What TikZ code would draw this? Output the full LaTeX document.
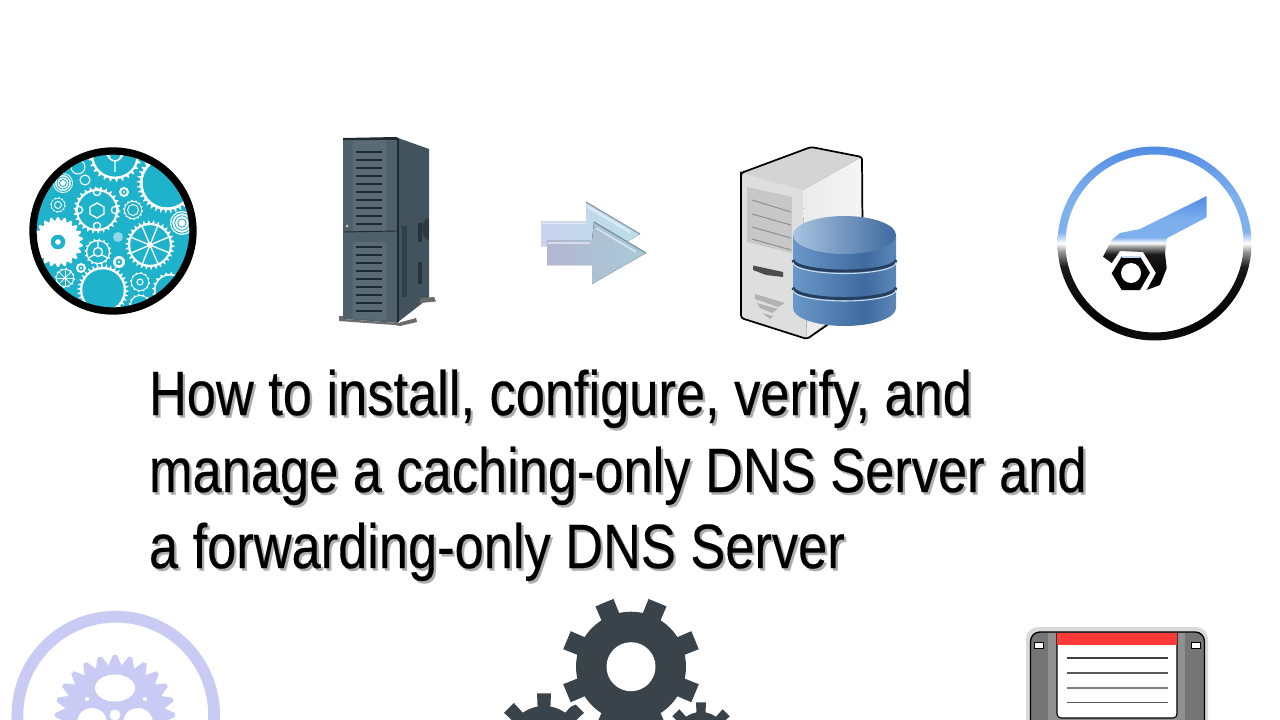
\documentclass[tikz,border=0pt]{standalone}
\usepackage{fontspec}
\setmainfont{Liberation Sans}
\usetikzlibrary{calc}
\definecolor{teal1}{HTML}{1FB2CB}
\definecolor{tow}{HTML}{4F606B}
\definecolor{towd}{HTML}{43535D}
\definecolor{towf}{HTML}{5A6B76}
\definecolor{slat}{HTML}{1E2A31}
\definecolor{gr1}{HTML}{3A424A}
\definecolor{lav}{HTML}{C9CBF4}
\definecolor{fl}{HTML}{757575}
\definecolor{fl2}{HTML}{8F9092}
\definecolor{cylA}{HTML}{5683B8}
\definecolor{cylB}{HTML}{6E9BCC}
\definecolor{cylC}{HTML}{3F6A9F}
\definecolor{cylD}{HTML}{7FA9D3}
\definecolor{chB}{HTML}{3F7FE0}
\definecolor{chL}{HTML}{7FB0EE}
\definecolor{chD}{HTML}{2560C8}
\definecolor{arA}{HTML}{CBD2EE}
\definecolor{arB}{HTML}{BADFEA}
\definecolor{arC}{HTML}{B4B7D2}
\definecolor{arD}{HTML}{A8CAD6}
\pgfdeclareverticalshading{chrome}{100bp}{
color(0bp)=(black);color(18bp)=(black!85);color(30bp)=(black);color(44bp)=(black!90);color(48bp)=(black!40);color(50bp)=(white);color(53bp)=(chL);color(62bp)=(chL);color(80bp)=(chB);color(100bp)=(chD)}
\pgfdeclarehorizontalshading{cyl}{100bp}{
color(0bp)=(cylA);color(22bp)=(cylB);color(60bp)=(cylC);color(85bp)=(cylB);color(100bp)=(cylD)}
\tikzset{
 px/.style={x=0.75pt,y=-0.75pt},
 line1/.style={font=\fontsize{47pt}{47pt}\selectfont\addfontfeature{FakeBold=0.35},anchor=base west,inner sep=0pt,text=black},
 shadowline/.style={line1,text=black!32},
 floppyline/.style={draw=black!75,line width=0.9pt},
}
\newcommand{\tl}[1]{\scalebox{0.836}[1]{#1}}
% cx cy root tip teeth tooth-angle rotation
\newcommand{\gearp}[7]{%
 ($(#1,#2)+({#7+#6}:{#3})$)
 \foreach \gi [evaluate=\gi as \ga using {#7+360*\gi/#5}] in {1,...,#5}{
  -- ($(#1,#2)+({\ga}:{#3})$) -- ($(#1,#2)+({\ga+0.1*#6}:{#4})$) -- ($(#1,#2)+({\ga+0.9*#6}:{#4})$) -- ($(#1,#2)+({\ga+#6}:{#3})$)
 } -- cycle (#1,#2) circle ({#3})}
% triangular teeth
\newcommand{\gearq}[7]{%
 ($(#1,#2)+({#7+#6}:{#3})$)
 \foreach \gi [evaluate=\gi as \ga using {#7+360*\gi/#5}] in {1,...,#5}{
  -- ($(#1,#2)+({\ga}:{#3})$) -- ($(#1,#2)+({\ga+0.38*#6}:{#4})$) -- ($(#1,#2)+({\ga+0.62*#6}:{#4})$) -- ($(#1,#2)+({\ga+#6}:{#3})$)
 } -- cycle}
\newcommand{\tring}[5]{%
 \fill[white] \gearq{#1}{#2}{#3}{#3*1.12}{#4}{180/#4}{#5};
 \fill[teal1] (#1,#2) circle ({#3*0.9});
}
\newcommand{\conc}[3]{%
 \fill[white] (#1,#2) circle (#3);
 \foreach \k in {0.85,0.6,0.35}{\draw[teal1,line width=0.7pt] (#1,#2) circle ({#3*\k});}
}
\newcommand{\smallg}[3]{%
 \fill[white] (#1,#2) circle (#3);
 \fill[teal1] (#1,#2) circle ({#3*.55});
 \fill[white] (#1,#2) circle ({#3*.22});
}
\begin{document}
\begin{tikzpicture}[px]
\useasboundingbox (0,0) rectangle (1280,720);
\fill[white] (0,0) rectangle (1280,720);

% ---------- gears disc
\begin{scope}
\clip (113,231) circle (77);
\fill[teal1] (113,231) circle (78);
\tring{115}{155}{24}{26}{0}
\draw[white,line width=1.1pt] (115,155) circle (6) (102,148)--(110,159) (128,148)--(120,159) (115,161)--(115,172);
\tring{167}{183}{27}{36}{0}
\tring{97}{210}{21}{26}{0}
\draw[white,line width=1pt] (97,203)--(104,207)--(104,214)--(97,218)--(90,214)--(90,207)--cycle;
\foreach \a/\b in {97/192,97/226,79/210,115/210}{\draw[white,line width=1pt] (\a,\b) circle (3.6);}
\fill[white] \gearq{58}{242}{21}{25}{22}{16.36}{0};
\fill[teal1] (58,242) circle (7.3); \fill[white] (58,242) circle (2.8);
\tring{150}{245}{22}{30}{0}
\foreach \r in {0,45,...,315}{\draw[white,line width=1pt] (150,245) -- +(\r+22:21);}
\fill[white] (150,245) circle (2.8);
\tring{98}{252}{12}{16}{0}
\draw[white,line width=1pt] (98,252) circle (4.5) (98,247)--(98,241) (102,255)--(108,258) (94,255)--(88,258);
\tring{103}{290}{23}{34}{0}
\tring{140}{282}{9}{12}{0}
\draw[white,line width=.8pt] (140,282) circle (3);
\tring{170}{290}{16}{20}{0}
\tring{65}{278}{9}{12}{0}
\foreach \r in {0,45,...,315}{\draw[white,line width=.7pt] (65,278) -- +(\r:9);}
\tring{140}{305}{10}{14}{0}
\conc{63}{183}{10}
\conc{182}{223}{12}
\tring{133}{210}{9}{14}{0}
\draw[white,line width=.7pt] (133,210) circle (5.5);
\tring{58}{205}{7}{12}{0}
\draw[white,line width=.7pt] (58,205) circle (3.5);
\smallg{124}{192}{5}
\smallg{119}{262}{6}
\smallg{81}{268}{5}
\draw[white,line width=.8pt] (85,180) circle (5) (78,167) circle (7);
\fill[white,opacity=.5] (118,237) circle (5);
\end{scope}
\draw[black,line width=5.5pt] (113,231) circle (80);

% ---------- tower
\fill[towd] (398,138) -- (429,149) -- (429,298) -- (398,322) -- cycle;
\fill[tow] (343,139) -- (398,138) -- (398,323) -- (343,319) -- cycle;
\fill[towf] (352.5,141) -- (386.5,140) -- (386.5,231) -- (352.5,231) -- cycle;
\fill[towf] (352.5,242) -- (386.5,242) -- (386.5,320) -- (352.5,319) -- cycle;
\fill[slat] (343,138) -- (397,137) -- (399,140) -- (343,140) -- cycle;
\draw[slat,line width=.7pt] (343,232) -- (397,231);
\draw[slat,line width=1.1pt] (398,138) -- (398,322);
\foreach \y in {152,160,168,176,184,192,200,208,216,224}{\fill[slat] (356,\y-1.4) rectangle (382,\y+1.4);}
\foreach \y in {247,255,263,271,279,287,295,303,311}{\fill[slat] (356,\y-1.4) rectangle (382,\y+1.4);}
\fill[slat!75!towd] (418,223) rectangle (422,242) (418,262) rectangle (422,284);
\fill[slat!45!towd] (402,226) rectangle (407,297);
\fill[slat!60!towd] (429,218) to[out=180,in=180] (429,240) -- cycle;
\fill[white!80!black] (347,226) circle (1.5);
\fill[black!58] (339,316) -- (343,316) -- (343,319) -- (398,323) -- (416,318) -- (417,322) -- (400,326) -- (395,325) -- (339,321) -- cycle;
\fill[black!58] (420,298) -- (434,297) -- (436,301.5) -- (420,303) -- cycle;

% ---------- arrows
\fill[left color=arA,right color=arB] (541,222) -- (586,222) -- (586,202) -- (640,234) -- (628,241) -- (586,246) -- (541,246) -- cycle;
\draw[black!30!arA,line width=.8pt] (586,202) -- (640,234);
\draw[white!50!arB,line width=1.6pt] (588,207) -- (630,232);
\draw[white!50!arA,line width=1pt] (542,223.5) -- (586,223.5);
\fill[left color=arC,right color=arD] (547,241) -- (592,241) -- (594,222) -- (646,253) -- (592,284) -- (592,265) -- (547,265) -- cycle;
\draw[black!30!arD,line width=.8pt] (594,222) -- (646,253);
\draw[white!55!arD,line width=1.2pt] (596,228) -- (636,252);
\draw[white!50!arC,line width=.8pt] (548,243) -- (590,243);

% ---------- db server
\fill[black!13] (741,173) -- (811,147) -- (862,157) -- (862,298) -- (807,338) -- (741,318) -- cycle;
\fill[left color=black!8,right color=black!4] (803,190) -- (862,157) -- (862,298) -- (807,338) -- cycle;
\fill[black!17] (741,173) -- (811,147) -- (862,157) -- (803,190) -- cycle;
\draw[black,line width=1.3pt,line join=round,rounded corners=2pt] (741,175) -- (741,173) -- (811,147) -- (862,157) -- (863,300) -- (807,339) -- (741,318) -- cycle;
\fill[black!22] (747,187) -- (792,197) -- (792,253) -- (747,242) -- cycle;
\draw[black!45,line width=.7pt] (752,200) -- (791,212) (752,214) -- (791,225) (752,227) -- (791,238) (752,239) -- (791,250);
\fill[black!70] (753,265.5) -- (783,272) -- (783,277) -- (766,275) -- (753,270) -- cycle;
\fill[black!30] (755,294) -- (785,303) -- (778,307) -- (755,299) -- cycle;
\fill[black!30] (757,303) -- (778,309) -- (772,313) -- (760,308) -- cycle;
\fill[black!30] (762,313) -- (773,316) -- (770,319) -- cycle;

% cylinder
\path[shading=cyl] (793,235) -- (793,308) arc[start angle=180,end angle=0,x radius=51.5,y radius=18] -- (896,235) -- cycle;
\draw[cylC!60!black,line width=2.2pt] (793,260) arc[start angle=180,end angle=0,x radius=51.5,y radius=11];
\draw[cylC!60!black,line width=2.2pt] (793,287.5) arc[start angle=180,end angle=0,x radius=51.5,y radius=11];
\draw[cylD!40!white,line width=.8pt] (793,262.5) arc[start angle=180,end angle=0,x radius=51.5,y radius=11];
\draw[cylD!40!white,line width=.8pt] (793,290) arc[start angle=180,end angle=0,x radius=51.5,y radius=11];
\path[left color=cylB!60!white,middle color=cylB!85!white,right color=cylC] (844.5,235) ellipse (51.5 and 19);

% ---------- wrench ring
\path[shading=chrome,even odd rule] (1154.5,243.5) circle (97) (1154.5,243.5) circle (89);
\path[shading=chrome] (1206.7,196) -- (1206.7,217.3) -- (1166.7,238.3) -- (1165,253) -- (1166.7,268.3) -- (1160,285) -- (1146.7,290) -- (1156,273) -- (1143,252) -- (1120,251) -- (1111.7,263) -- (1103,256.7) -- (1111.7,240) -- (1120,233) -- (1140,229) -- cycle;
\fill[black] (1121.7,256.7) -- (1140,256.7) -- (1150,272.7) -- (1140,290) -- (1121.7,290) -- (1111.7,273.3) -- cycle;
\draw[chL!50!white,line width=1pt] (1121.7,257) -- (1140,257);
\fill[white] (1131,273) circle (10);

% ---------- lavender gear
\draw[lav,line width=8.8pt] (115.8,715) circle (98.3);
\fill[lav] \gearq{115}{715}{50}{60}{24}{15}{-7.5};
\fill[white] (115,688) ellipse (20 and 13.5);
\fill[white] (87,699) circle (2) (145,699) circle (2);
\fill[white] (92,723) circle (15) (138,723) circle (15);
\fill[white] (115,715) circle (5.5);

% ---------- dark gears
\fill[gr1,nonzero rule] \gearp{544}{743}{37}{50}{8}{20}{-10};
\fill[gr1,nonzero rule] \gearp{701}{738}{26}{36}{8}{20}{-10};
\draw[white,line width=6pt] \gearp{631}{666.7}{55}{70}{8}{20}{12.5};
\fill[gr1,nonzero rule] \gearp{631}{666.7}{55}{70}{8}{20}{12.5};
\fill[white] (631,666.7) circle (24.5);

% ---------- floppy
\fill[black!15,rounded corners=9pt] (1026,627) rectangle (1208,740);
\fill[fl,rounded corners=7pt,draw=black,line width=1pt] (1030.5,632) rectangle (1204.5,740);
\fill[fl2] (1048,633) rectangle (1185,720);
\fill[white,rounded corners=3pt,draw=black,line width=.8pt] (1057,633) -- (1057,718) -- (1177,718) -- (1177,633);
\fill[red!78!white] (1057,633) rectangle (1177,645);
\draw[floppyline] (1066.5,658) -- (1167.5,658);
\draw[floppyline,draw=black!65] (1066.5,673) -- (1167.5,673);
\draw[floppyline,draw=black!50] (1066.5,688) -- (1167.5,688);
\draw[floppyline,draw=black!65] (1066.5,702.5) -- (1167.5,702.5);
\fill[white,draw=black,line width=.7pt] (1034,642) rectangle (1043,648) (1191,642) rectangle (1200,648);

% ---------- text
\node[shadowline] (s1) at (151,417.5) {\tl{How to install, configure, verify, and}};
\node[shadowline] (s2) at (151,494.5) {\tl{manage a caching-only DNS Server and}};
\node[shadowline] (s3) at (151,570.5) {\tl{a forwarding-only DNS Server}};
\node[line1] (l1) at (148.7,415) {\tl{How to install, configure, verify, and}};
\node[line1] (l2) at (148.7,492) {\tl{manage a caching-only DNS Server and}};
\node[line1] (l3) at (148.7,568) {\tl{a forwarding-only DNS Server}};
\end{tikzpicture}
\end{document}
